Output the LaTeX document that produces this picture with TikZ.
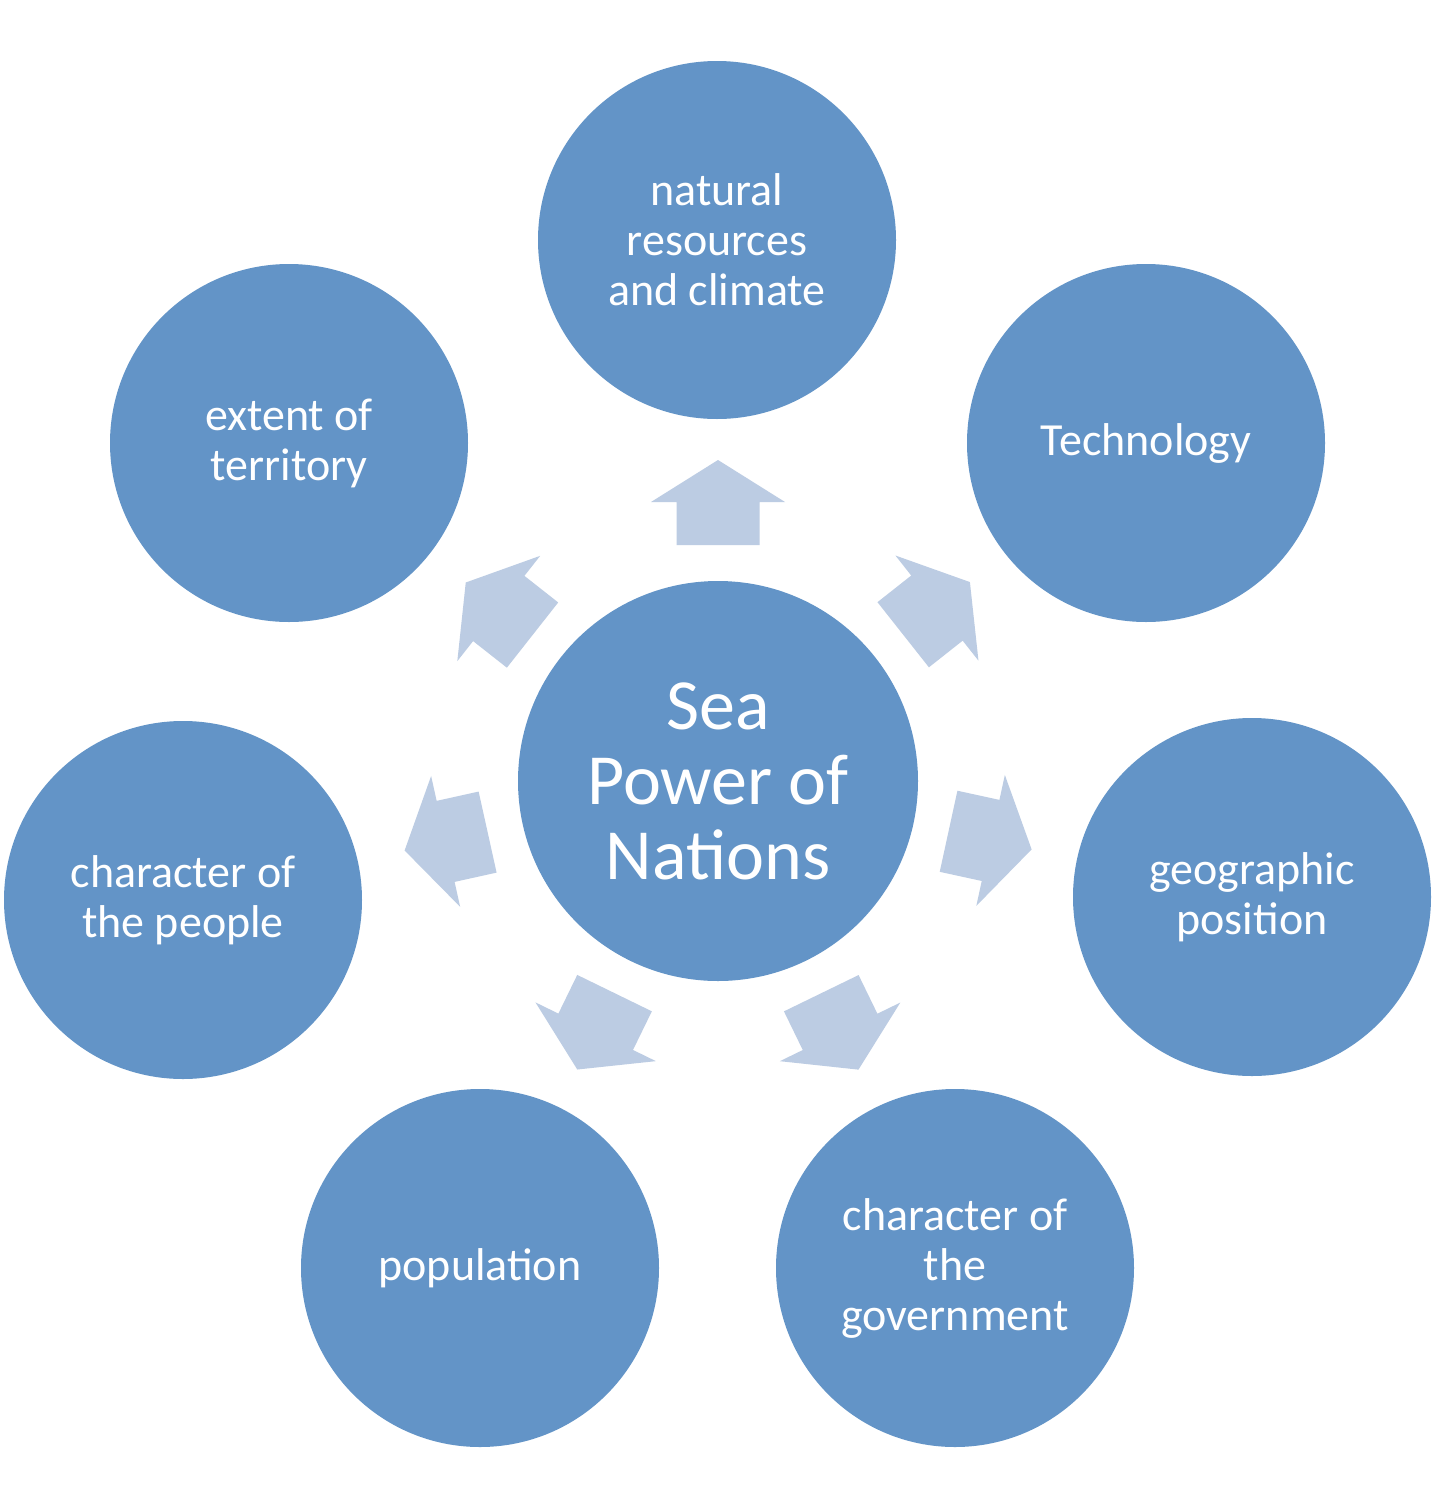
\documentclass[tikz,border=0pt]{standalone}
\usepackage{fontspec}
\setmainfont{Carlito}
\definecolor{circfill}{RGB}{99,148,199}
\definecolor{arrfill}{RGB}{188,204,227}
\tikzset{
  outer/.style={circle, fill=circfill, minimum size=358pt, inner sep=0pt, text=white,
    align=center, font=\fontsize{46}{50}\selectfont},
  inner/.style={circle, fill=circfill, minimum size=400pt, inner sep=0pt, text=white,
    align=center, font=\fontsize{72}{75}\selectfont},
  blockarr/.pic={\fill[arrfill] (236pt,-41.5pt) -- (279pt,-41.5pt) -- (279pt,-67pt) -- (321pt,0pt)
     -- (279pt,67pt) -- (279pt,41.5pt) -- (236pt,41.5pt) -- cycle;}
}
\begin{document}
\begin{tikzpicture}[x=1pt,y=-1pt]
\useasboundingbox[fill=white] (0,0) rectangle (1443,1491);
\node[inner] (c) at (718,781) {Sea\\Power of\\Nations};
\node[outer] (o1) at (717,240) {natural\\resources\\and climate};
\node[outer] (o2) at (1146,443) {Technology};
\node[outer] (o3) at (1252,897) {geographic\\position};
\node[outer] (o4) at (955,1268) {character of\\the\\government};
\node[outer] (o5) at (480,1268) {population};
\node[outer] (o6) at (183,900) {character of\\the people};
\node[outer] (o7) at (289,443) {extent of\\territory};
\foreach \a in {90,38.3,-12.3,-64.05,-116,192.5,141.8}
  \pic[rotate=\a] at (c.center) {blockarr};
\end{tikzpicture}
\end{document}
